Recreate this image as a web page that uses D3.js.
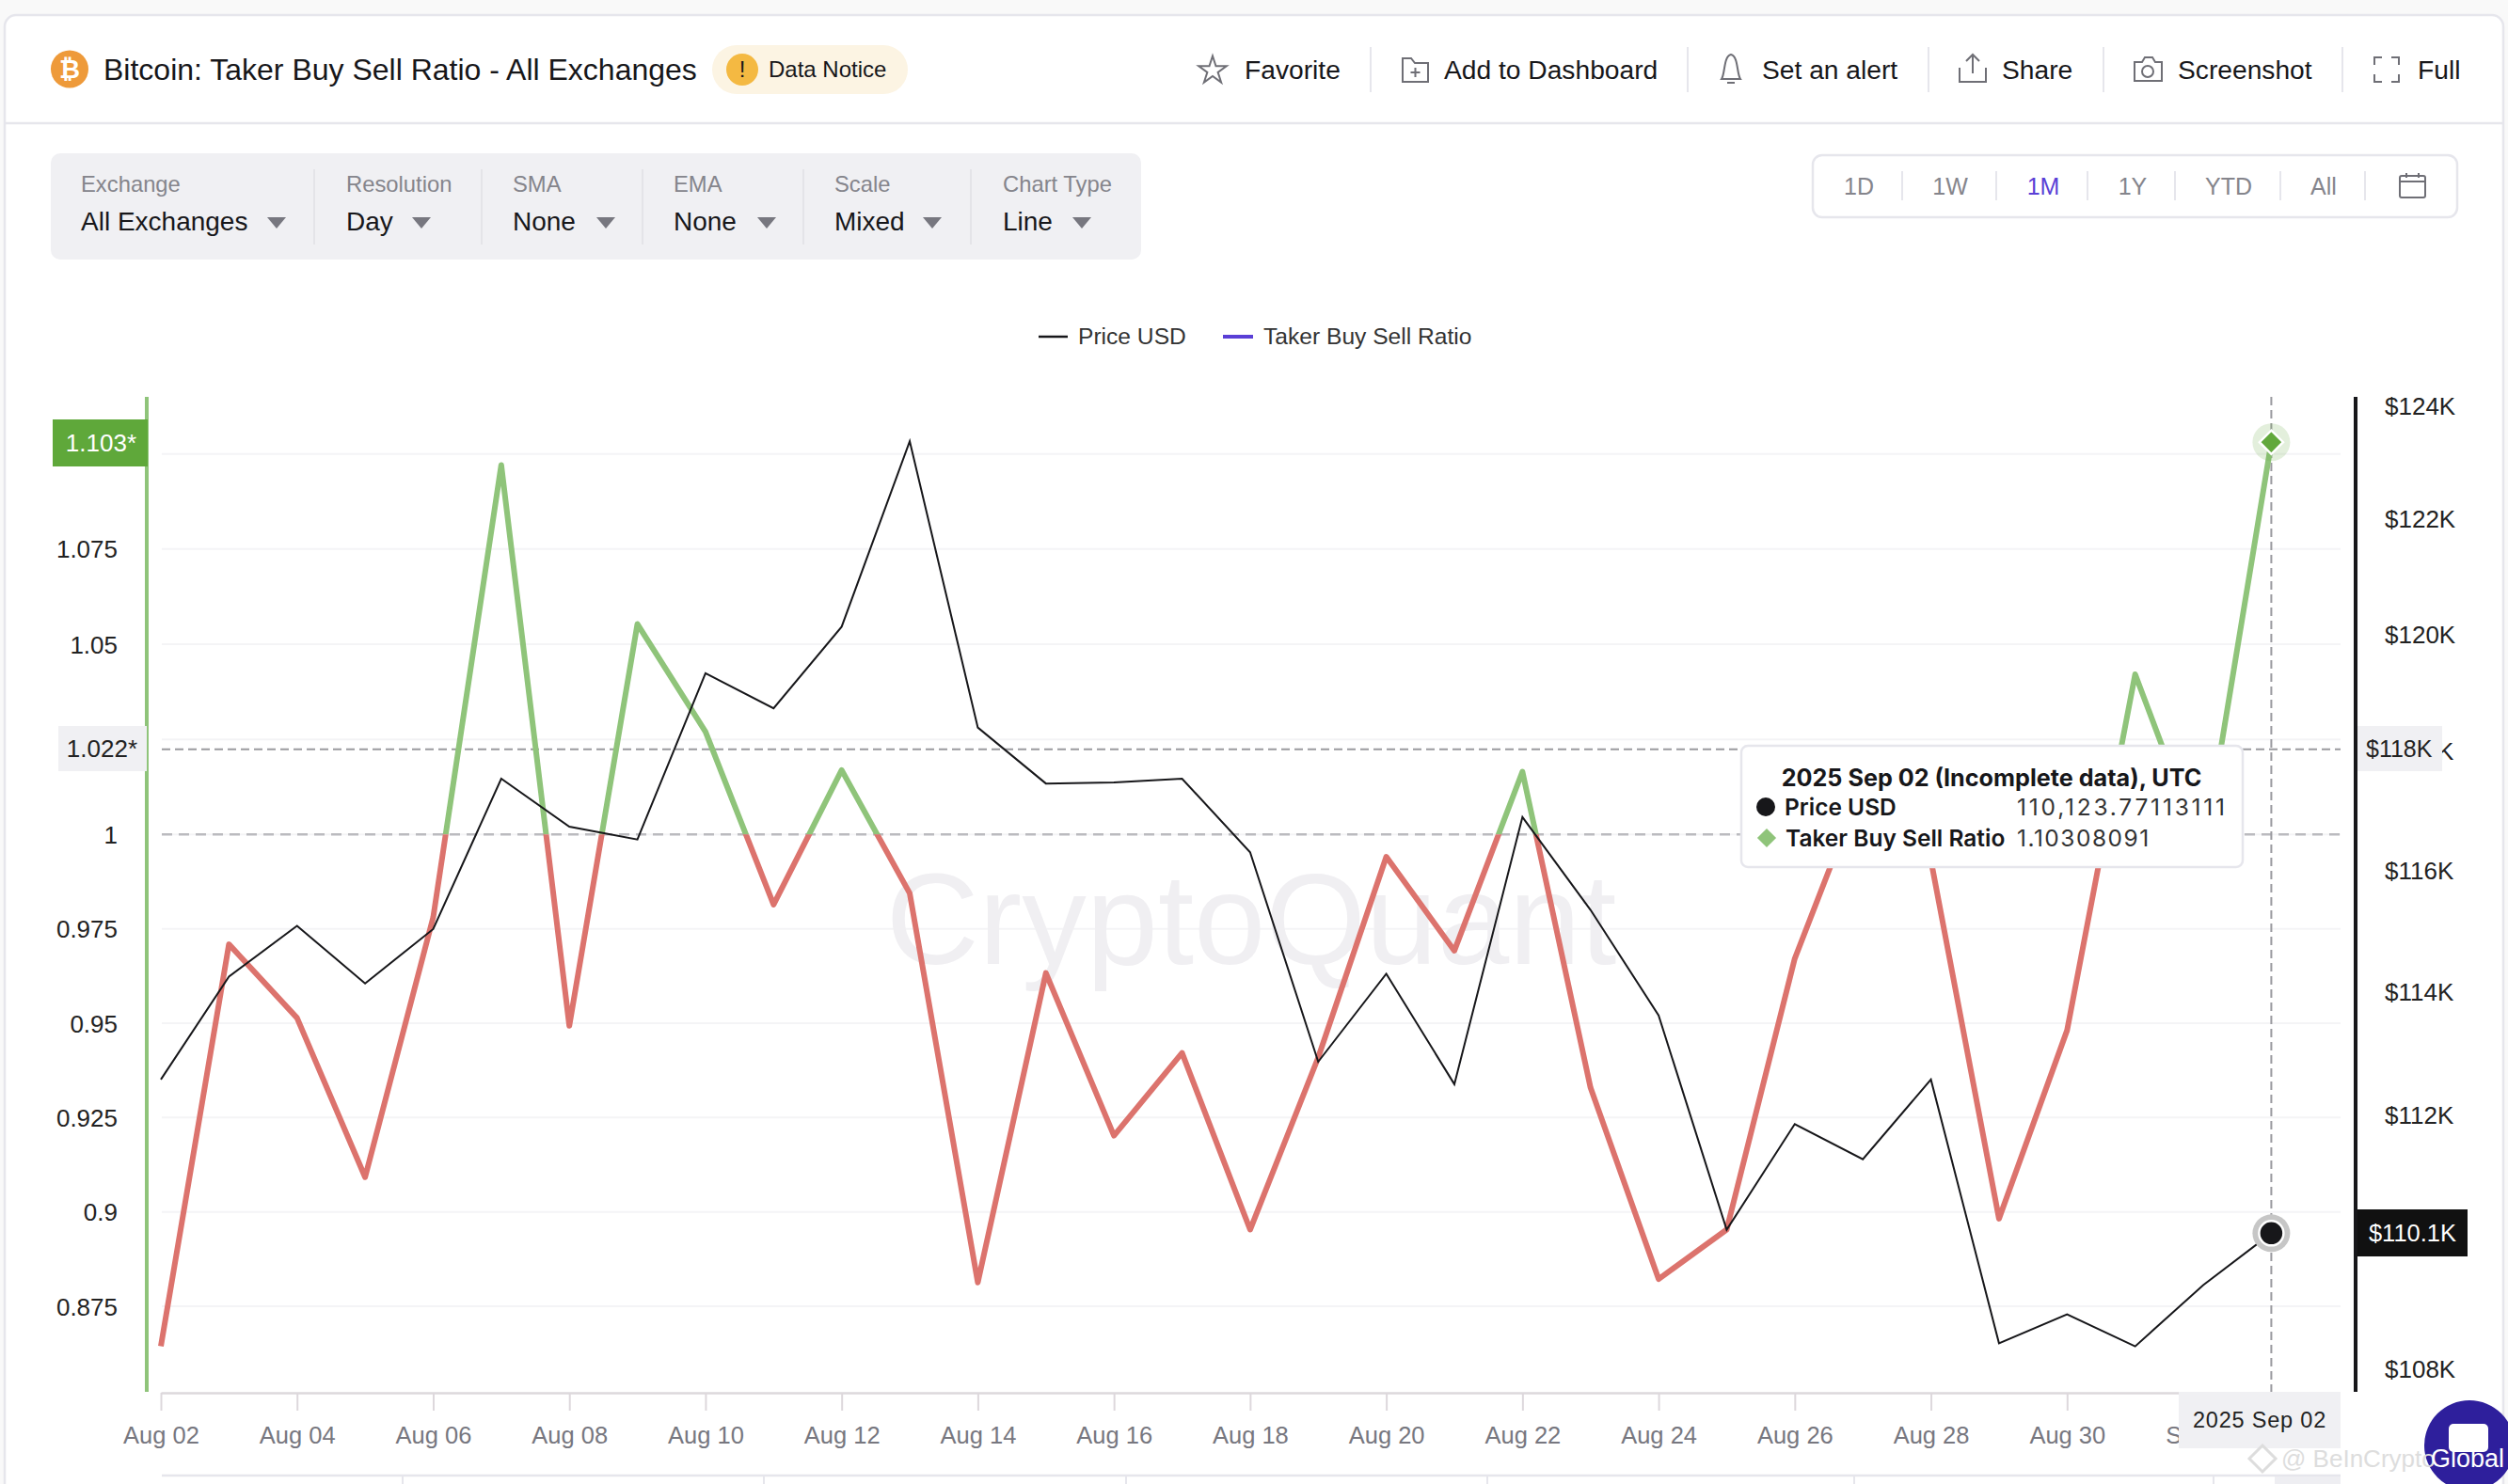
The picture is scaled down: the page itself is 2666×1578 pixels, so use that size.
<!DOCTYPE html>
<html>
<head>
<meta charset="utf-8">
<script src="https://cdn.jsdelivr.net/npm/d3@7"></script>
<style>
  html, body { margin: 0; padding: 0; background: #f9f9f9; }
  svg { display: block; font-family: "Liberation Sans", Arial, sans-serif; }
</style>
</head>
<body>
<div id="chart-container"></div>
<script>
// chart data
const dates = ['2025-08-02','2025-08-03','2025-08-04','2025-08-05','2025-08-06','2025-08-07','2025-08-08','2025-08-09',
  '2025-08-10','2025-08-11','2025-08-12','2025-08-13','2025-08-14','2025-08-15','2025-08-16','2025-08-17',
  '2025-08-18','2025-08-19','2025-08-20','2025-08-21','2025-08-22','2025-08-23','2025-08-24','2025-08-25',
  '2025-08-26','2025-08-27','2025-08-28','2025-08-29','2025-08-30','2025-08-31','2025-09-01','2025-09-02'];
const ratioValues = [0.8644,0.9709,0.9514,0.9092,0.978,1.0971,0.9493,1.0553,
  1.027,0.9814,1.0169,0.9844,0.8813,0.9633,0.9202,0.9421,
  0.8953,0.9409,0.9941,0.9692,1.0165,0.9329,0.8822,0.8953,
  0.9671,1.0135,0.9932,0.8982,0.9481,1.0421,0.9945,1.10308091];
const priceValues = [112580,114254,115090,114143,115036,117545,116739,116524,
  119337,118737,120136,123375,118411,117464,117480,117545,
  116311,112867,114300,112504,116900,115353,113621,110179,
  111862,111298,112580,108400,108849,108351,109308,110123.77];
const ratioGrid = [0.875,0.9,0.925,0.95,0.975,1,1.025,1.05,1.075,1.1];
const ratioTicks = [0.875,0.9,0.925,0.95,0.975,1,1.05,1.075]; // 1.025 and 1.1 sit under the tags
const priceTicks = [108000,112000,114000,116000,118000,120000,122000,124000]; // 110K sits under the tag
const xTicks = ['2025-08-02','2025-08-04','2025-08-06','2025-08-08','2025-08-10','2025-08-12','2025-08-14','2025-08-16',
  '2025-08-18','2025-08-20','2025-08-22','2025-08-24','2025-08-26','2025-08-28','2025-08-30','2025-09-01'];
const filterNames = ['Exchange','Resolution','SMA','EMA','Scale','Chart Type'];
const filterValues = ['All Exchanges','Day','None','None','Mixed','Line'];
const rangeNames = ['1D','1W','1M','1Y','YTD','All'];
const headerActions = ['Favorite','Add to Dashboard','Set an alert','Share','Screenshot','Full'];

const width = 2666;
const height = 1578;
const ink = '#17171a';
const muted = '#85858c';
const border = '#e6e6ec';
const panel = '#f0f0f3';
const green = '#8fc47a';
const red = '#dc736d';

const svg = d3.select('#chart-container')
  .append('svg')
  .attr('width', width)
  .attr('height', height);

function label(parent, x, y, text, size, fill, anchor) {
  return parent.append('text')
    .attr('x', x)
    .attr('y', y)
    .attr('dy', '0.35em')
    .attr('text-anchor', anchor || 'start')
    .attr('font-size', size)
    .attr('fill', fill)
    .text(text);
}

// card
svg.append('rect').attr('x', 5).attr('y', 16).attr('width', 2656).attr('height', 1600).attr('rx', 12)
  .attr('fill', '#fff').attr('stroke', border).attr('stroke-width', 2.5);
svg.append('line').attr('x1', 5).attr('x2', 2661).attr('y1', 131).attr('y2', 131)
  .attr('stroke', border).attr('stroke-width', 2.5);

// title row
svg.append('circle').attr('cx', 74).attr('cy', 73.5).attr('r', 20).attr('fill', '#ee9a3a');
svg.append('text').attr('x', 74).attr('y', 74).attr('dy', '0.35em').attr('text-anchor', 'middle')
  .attr('font-size', 27).attr('font-weight', 700).attr('fill', '#fff').text('₿');
label(svg, 110, 74, 'Bitcoin: Taker Buy Sell Ratio - All Exchanges', 32, ink);
svg.append('rect').attr('x', 757).attr('y', 48).attr('width', 208).attr('height', 52).attr('rx', 26).attr('fill', '#fcf4e3');
svg.append('circle').attr('cx', 789).attr('cy', 74).attr('r', 17).attr('fill', '#f4b942');
label(svg, 789, 74, '!', 24, ink, 'middle');
label(svg, 817, 74, 'Data Notice', 24, ink);

// header actions
const actionX = [1323, 1535, 1873, 2128, 2315, 2570];
const actionSeps = [1457, 1794, 2050, 2236, 2490];
headerActions.forEach((d, i) => label(svg, actionX[i], 74, d, 28.2, ink));
actionSeps.forEach(x => svg.append('line').attr('x1', x).attr('x2', x).attr('y1', 50).attr('y2', 98)
  .attr('stroke', border).attr('stroke-width', 2));

// filter panel
svg.append('rect').attr('x', 54).attr('y', 163).attr('width', 1159).attr('height', 113).attr('rx', 10).attr('fill', panel);
const filterX = [86, 368, 545, 716, 887, 1066];
const filterArrow = [294, 448, 644, 815, 991, 1150];
const filterSeps = [334, 512, 683, 854, 1032];
filterNames.forEach((d, i) => {
  label(svg, filterX[i], 196, d, 23.8, muted);
  label(svg, filterX[i], 235, filterValues[i], 28, ink);
  svg.append('path')
    .attr('d', `M${filterArrow[i] - 10} 231 H${filterArrow[i] + 10} L${filterArrow[i]} 243 Z`)
    .attr('fill', '#77777f');
});
filterSeps.forEach(x => svg.append('line').attr('x1', x).attr('x2', x).attr('y1', 180).attr('y2', 260)
  .attr('stroke', '#e4e4e8').attr('stroke-width', 2));

// range selector
svg.append('rect').attr('x', 1927).attr('y', 165).attr('width', 685).attr('height', 66).attr('rx', 10)
  .attr('fill', '#fff').attr('stroke', border).attr('stroke-width', 2.5);
const rangeX = [1976, 2073, 2172, 2267, 2369, 2470];
const rangeSeps = [2022, 2122, 2219, 2312, 2424, 2514];
rangeNames.forEach((d, i) => label(svg, rangeX[i], 198, d, 25, d === '1M' ? '#5a3fd6' : muted, 'middle'));
rangeSeps.forEach(x => svg.append('line').attr('x1', x).attr('x2', x).attr('y1', 182).attr('y2', 213)
  .attr('stroke', border).attr('stroke-width', 2));

// icons, drawn after the panels they sit on
const iconG = svg.append('g').attr('fill', 'none').attr('stroke', '#6f6f76').attr('stroke-width', 2);
iconG.append('path').attr('transform', 'translate(1289,75)').attr('d', d3.symbol(d3.symbolStar, 270)());
iconG.append('path').attr('d', 'M1491 62 L1500 62 L1504 67 L1518 67 L1518 87 L1491 87 Z M1504.5 72 V82 M1499.5 77 H1509.5');
iconG.append('path').attr('d', 'M1830 84 C1834 78 1832 60 1840 58 C1848 60 1846 78 1850 84 Z M1836 88 H1844');
iconG.append('path').attr('d', 'M2083 72 V87 H2111 V72 M2097 78 V58 M2090 65 L2097 58 L2104 65');
iconG.append('path').attr('d', 'M2269 66 H2277 L2280 61 H2288 L2291 66 H2298 V86 H2269 Z');
iconG.append('circle').attr('cx', 2283).attr('cy', 76).attr('r', 6);
iconG.append('path').attr('d', 'M2524 69 V61 H2532 M2542 61 H2550 V69 M2524 79 V87 H2532 M2542 87 H2550 V79');
iconG.append('rect').attr('x', 2551).attr('y', 187).attr('width', 27).attr('height', 23).attr('rx', 2);
iconG.append('path').attr('d', 'M2551 193 H2578 M2558 184 V189 M2571 184 V189');

// legend
svg.append('line').attr('x1', 1104).attr('x2', 1135).attr('y1', 358).attr('y2', 358).attr('stroke', ink).attr('stroke-width', 2.5);
label(svg, 1146, 357, 'Price USD', 24.6, '#333');
svg.append('line').attr('x1', 1300).attr('x2', 1332).attr('y1', 358).attr('y2', 358).attr('stroke', '#5a3fd6').attr('stroke-width', 4);
label(svg, 1343, 357, 'Taker Buy Sell Ratio', 24.6, '#333');

// scales
const parseDate = d3.utcParse('%Y-%m-%d');
const xScale = d3.scaleUtc()
  .domain([parseDate(dates[0]), parseDate(dates[dates.length - 1])])
  .range([171, 2414.4]);
const yRatio = d3.scaleLinear()
  .domain([0.875, 1, 1.1])
  .range([1389, 887.3, 482.7]);
const yPrice = d3.scaleLog()
  .domain([108000, 124000])
  .range([1455.7, 431.8]);

const plotLeft = 172;
const plotRight = 2488;
const plotTop = 422;
const plotBottom = 1480;

// gridlines
svg.append('g').selectAll('line')
  .data(ratioGrid)
  .enter()
  .append('line')
  .attr('x1', plotLeft)
  .attr('x2', plotRight)
  .attr('y1', d => yRatio(d))
  .attr('y2', d => yRatio(d))
  .attr('stroke', '#f4f4f6')
  .attr('stroke-width', 2);

// watermark
svg.append('text')
  .attr('x', 1330).attr('y', 977).attr('dy', '0.35em')
  .attr('text-anchor', 'middle')
  .attr('font-size', 137)
  .attr('fill', '#f0eff2')
  .text('CryptoQuant');

// left axis
const ratioAxis = svg.append('g')
  .attr('transform', 'translate(156,0)')
  .call(d3.axisLeft(yRatio).tickValues(ratioTicks).tickFormat(d => String(d)).tickSize(0).tickPadding(31));
ratioAxis.select('.domain').remove();
ratioAxis.selectAll('text').attr('font-size', 26).attr('font-family', 'inherit').attr('fill', '#222').attr('dy', '0.35em');
svg.append('line').attr('x1', 156).attr('x2', 156).attr('y1', plotTop).attr('y2', plotBottom)
  .attr('stroke', green).attr('stroke-width', 4);

// right axis
const priceAxis = svg.append('g')
  .attr('transform', 'translate(2504,0)')
  .call(d3.axisRight(yPrice).tickValues(priceTicks).tickFormat(d => '$' + d / 1000 + 'K').tickSize(0).tickPadding(31));
priceAxis.select('.domain').remove();
priceAxis.selectAll('text').attr('font-size', 26).attr('font-family', 'inherit').attr('fill', '#222').attr('dy', '0.33em');
svg.append('line').attr('x1', 2504).attr('x2', 2504).attr('y1', plotTop).attr('y2', plotBottom)
  .attr('stroke', ink).attr('stroke-width', 4);

// x axis
const xAxis = svg.append('g')
  .attr('transform', `translate(0,${plotBottom + 1})`)
  .call(d3.axisBottom(xScale)
    .tickValues(xTicks.map(parseDate))
    .tickFormat(d3.utcFormat('%b %d'))
    .tickSize(19)
    .tickPadding(17)
    .tickSizeOuter(0));
xAxis.select('.domain').attr('stroke', '#ddd8dc').attr('stroke-width', 2.5);
xAxis.selectAll('line').attr('stroke', '#ddd8dc').attr('stroke-width', 2);
xAxis.selectAll('text').attr('font-size', 25.5).attr('font-family', 'inherit').attr('fill', '#77777f');

// crosshair and the ratio = 1 line
const lastDate = parseDate(dates[dates.length - 1]);
const hoverRatio = 1.0224;
svg.append('line').attr('x1', plotLeft).attr('x2', plotRight)
  .attr('y1', yRatio(1)).attr('y2', yRatio(1))
  .attr('stroke', '#bbbbbf').attr('stroke-width', 2.5).attr('stroke-dasharray', '11 7');
svg.append('line').attr('x1', plotLeft).attr('x2', plotRight)
  .attr('y1', yRatio(hoverRatio)).attr('y2', yRatio(hoverRatio))
  .attr('stroke', '#9a9a9f').attr('stroke-width', 2).attr('stroke-dasharray', '9 5');
svg.append('line').attr('x1', xScale(lastDate)).attr('x2', xScale(lastDate))
  .attr('y1', plotTop).attr('y2', plotBottom)
  .attr('stroke', '#9a9a9f').attr('stroke-width', 2).attr('stroke-dasharray', '9 5');

// ratio line, green above 1 and red below
const defs = svg.append('defs');
defs.append('clipPath').attr('id', 'above-one').append('rect')
  .attr('x', 0).attr('y', 0).attr('width', width).attr('height', yRatio(1));
defs.append('clipPath').attr('id', 'below-one').append('rect')
  .attr('x', 0).attr('y', yRatio(1)).attr('width', width).attr('height', height - yRatio(1));

const ratioLine = d3.line()
  .x((d, i) => xScale(parseDate(dates[i])))
  .y(d => yRatio(d));
[['above-one', green], ['below-one', red]].forEach(([clip, color]) => {
  svg.append('path')
    .datum(ratioValues)
    .attr('clip-path', `url(#${clip})`)
    .attr('d', ratioLine)
    .attr('fill', 'none')
    .attr('stroke', color)
    .attr('stroke-width', 6)
    .attr('stroke-linejoin', 'round');
});

// price line
const priceLine = d3.line()
  .x((d, i) => xScale(parseDate(dates[i])))
  .y(d => yPrice(d));
svg.append('path')
  .datum(priceValues)
  .attr('d', priceLine)
  .attr('fill', 'none')
  .attr('stroke', ink)
  .attr('stroke-width', 2);

// end markers
const lastRatio = ratioValues[ratioValues.length - 1];
const lastPrice = priceValues[priceValues.length - 1];
svg.append('circle').attr('cx', xScale(lastDate)).attr('cy', yRatio(lastRatio)).attr('r', 20)
  .attr('fill', '#62a83c').attr('opacity', 0.18);
svg.append('path')
  .attr('transform', `translate(${xScale(lastDate)},${yRatio(lastRatio)})`)
  .attr('d', d3.symbol(d3.symbolDiamond2, 400)())
  .attr('fill', '#62a83c').attr('stroke', '#fff').attr('stroke-width', 2.5);
svg.append('circle').attr('cx', xScale(lastDate)).attr('cy', yPrice(lastPrice)).attr('r', 20).attr('fill', '#c6c6c6');
svg.append('circle').attr('cx', xScale(lastDate)).attr('cy', yPrice(lastPrice)).attr('r', 13)
  .attr('fill', ink).attr('stroke', '#fff').attr('stroke-width', 2.5);

// axis tags
svg.append('rect').attr('x', 56).attr('y', 446).attr('width', 101).attr('height', 50).attr('fill', '#5fa83a');
label(svg, 145, 471, '1.103*', 26, '#fff', 'end');
svg.append('rect').attr('x', 62).attr('y', 772).attr('width', 94).attr('height', 48).attr('fill', panel);
label(svg, 146, 796, '1.022*', 26, '#222', 'end');
svg.append('rect').attr('x', 2506).attr('y', 772).attr('width', 90).attr('height', 48).attr('fill', panel);
label(svg, 2515, 796, '$118K', 25, '#222');
svg.append('rect').attr('x', 2506).attr('y', 1286).attr('width', 117).attr('height', 50).attr('fill', '#111');
label(svg, 2564.5, 1311, '$110.1K', 25.5, '#fff', 'middle');
svg.append('rect').attr('x', 2316).attr('y', 1480).attr('width', 172).attr('height', 60).attr('fill', panel);
label(svg, 2402, 1510, '2025 Sep 02', 23.5, '#222', 'middle').attr('letter-spacing', 0.8);

// tooltip
const tip = svg.append('g').attr('font-family', 'Inter, sans-serif');
tip.append('rect').attr('x', 1851).attr('y', 793).attr('width', 533).attr('height', 129).attr('rx', 7)
  .attr('fill', '#fff').attr('stroke', border).attr('stroke-width', 2.5);
label(tip, 2117, 827, '2025 Sep 02 (Incomplete data), UTC', 25.2, ink, 'middle').attr('font-weight', 700);
tip.append('circle').attr('cx', 1877).attr('cy', 858).attr('r', 10).attr('fill', ink);
label(tip, 1897, 858, 'Price USD', 24.5, ink).attr('font-weight', 600);
label(tip, 2144, 858, '110,123.77113111', 24.5, '#333').attr('letter-spacing', 2.8);
tip.append('path').attr('transform', 'translate(1878,891)').attr('d', d3.symbol(d3.symbolDiamond2, 260)()).attr('fill', green);
label(tip, 1898, 891, 'Taker Buy Sell Ratio', 24.5, ink).attr('font-weight', 600);
label(tip, 2144, 891, '1.10308091', 24.5, '#333').attr('letter-spacing', 1.5);

// navigator stub under the chart
svg.append('line').attr('x1', plotLeft).attr('x2', plotRight).attr('y1', 1569).attr('y2', 1569)
  .attr('stroke', border).attr('stroke-width', 2.5);
svg.append('rect').attr('x', 2418).attr('y', 1570).attr('width', 70).attr('height', 8).attr('fill', '#eeeef2');
[428, 812, 1197, 1581, 1971, 2353].forEach(x => svg.append('line').attr('x1', x).attr('x2', x).attr('y1', 1569).attr('y2', 1578)
  .attr('stroke', border).attr('stroke-width', 2));

// chat button and source mark
svg.append('circle').attr('cx', 2625).attr('cy', 1537).attr('r', 48).attr('fill', '#2e1f9c');
svg.append('rect').attr('x', 2603).attr('y', 1514).attr('width', 42).attr('height', 30).attr('rx', 5).attr('fill', '#fff');
svg.append('path').attr('transform', 'translate(2405,1551)').attr('d', d3.symbol(d3.symbolDiamond2, 500)())
  .attr('fill', 'none').attr('stroke', '#dddddd').attr('stroke-width', 3);
label(svg, 2425, 1551, '@ BeInCrypto', 26, '#dddddd');
label(svg, 2584, 1551, 'Global', 27, '#fff');
</script>
</body>
</html>
